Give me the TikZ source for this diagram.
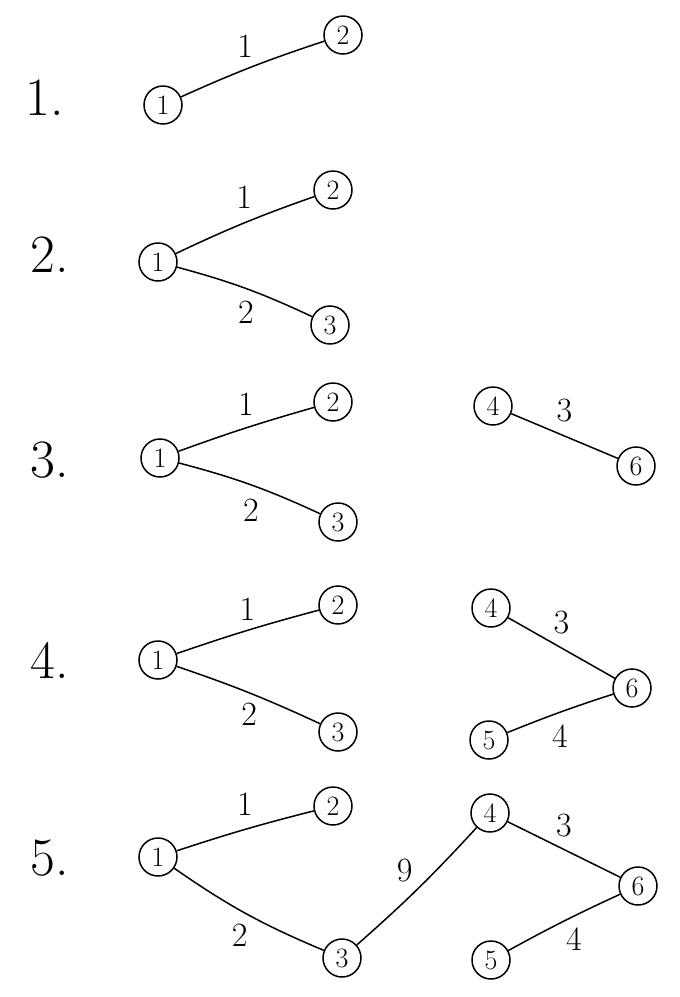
\documentclass[tikz,border=0pt]{standalone}
\usepackage{fontspec}
\begin{document}
\begin{tikzpicture}[x=1pt,y=-1pt,
  v/.style={circle,draw,line width=1.5pt,minimum size=38pt,inner sep=0pt,font=\fontsize{28}{28}\selectfont},
  w/.style={font=\fontsize{34}{34}\selectfont},
  st/.style={font=\fontsize{54}{54}\selectfont},
  e/.style={line width=1.5pt}]
\useasboundingbox (0,0) rectangle (680,997);
% step 1
\node[st] (s1) at (45,98) {1.};
\node[v] (a1) at (163,105) {1};
\node[v] (a2) at (343,35) {2};
\draw[e] (a1) to[bend left=3] node[w,above=8pt,pos=0.45]{1} (a2);
% step 2
\node[st] (s2) at (50,255) {2.};
\node[v] (b1) at (158,262) {1};
\node[v] (b2) at (333,190) {2};
\node[v] (b3) at (330,325) {3};
\draw[e] (b1) to[bend left=3] node[w,above=10pt]{1} (b2);
\draw[e] (b1) to[bend left=5] node[w,below=8pt]{2} (b3);
% step 3
\node[st] (s3) at (50,460) {3.};
\node[v] (c1) at (160,458) {1};
\node[v] (c2) at (333,402) {2};
\node[v] (c3) at (338,522) {3};
\node[v] (c4) at (493,406) {4};
\node[v] (c6) at (636,466) {6};
\draw[e] (c1) to[bend left=2] node[w,above=8pt]{1} (c2);
\draw[e] (c1) to[bend left=5] node[w,below=10pt]{2} (c3);
\draw[e] (c4) to node[w,above=10pt]{3} (c6);
% step 4
\node[st] (s4) at (50,660) {4.};
\node[v] (d1) at (158,660) {1};
\node[v] (d2) at (338,605) {2};
\node[v] (d3) at (338,732) {3};
\node[v] (d4) at (491,608) {4};
\node[v] (d6) at (632,688) {6};
\node[v] (d5) at (489,740) {5};
\draw[e] (d1) to[bend left=2] node[w,above=6pt]{1} (d2);
\draw[e] (d1) to[bend left=3] node[w,below=6pt]{2} (d3);
\draw[e] (d4) to node[w,above=10pt]{3} (d6);
\draw[e] (d5) to[bend left=2] node[w,below=8pt]{4} (d6);
% step 5
\node[st] (s5) at (50,858) {5.};
\node[v] (f1) at (158,857) {1};
\node[v] (f2) at (333,806) {2};
\node[v] (f3) at (342,958) {3};
\node[v] (f4) at (490,813) {4};
\node[v] (f6) at (638,886) {6};
\node[v] (f5) at (491,960) {5};
\draw[e] (f1) to[bend left=2] node[w,above=10pt]{1} (f2);
\draw[e] (f1) to[bend right=6] node[w,below=10pt,pos=0.45]{2} (f3);
\draw[e] (f3) to[bend right=3] node[w,above left=2pt]{9} (f4);
\draw[e] (f4) to node[w,above=8pt]{3} (f6);
\draw[e] (f5) to[bend left=2] node[w,below=8pt,pos=0.6]{4} (f6);
\end{tikzpicture}
\end{document}
